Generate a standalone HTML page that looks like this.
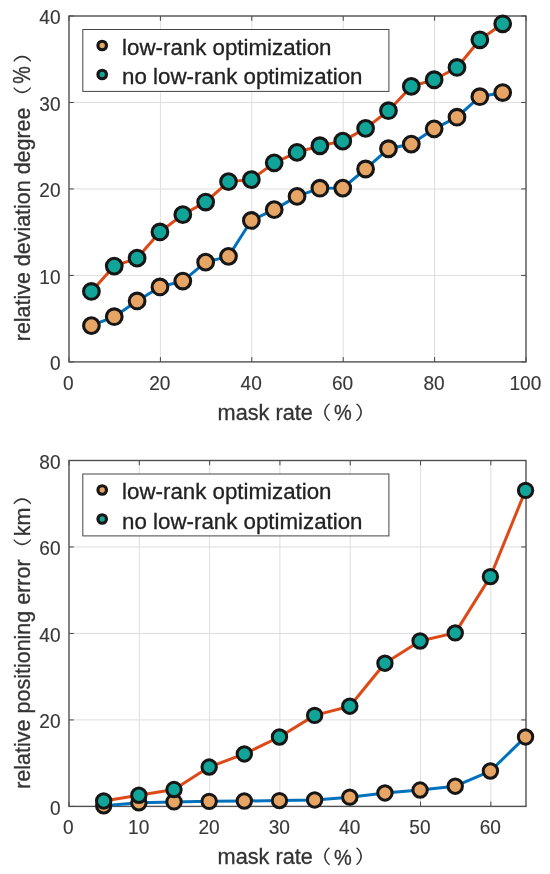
<!DOCTYPE html>
<html lang="en"><head><meta charset="utf-8"><title>Low-rank optimization comparison</title>
<style>html,body{margin:0;padding:0;background:#fff}svg{display:block}text{font-family:"Liberation Sans", "Noto Sans CJK SC", sans-serif;fill:#333;stroke:#333;stroke-width:0.3px}.tk{font-size:20px;stroke-width:0.15px;fill:#383838;stroke:#383838}.lb{font-size:21.7px}.lg{font-size:22.3px;fill:#222;stroke:#222}.pr{font-size:21.5px;stroke:none;font-weight:350}</style></head><body>
<svg width="550" height="874" viewBox="0 0 550 874">
<rect width="550" height="874" fill="#fff"/>
<line x1="160.40" y1="16.00" x2="160.40" y2="361.90" stroke="#dedede" stroke-width="1"/>
<line x1="251.80" y1="16.00" x2="251.80" y2="361.90" stroke="#dedede" stroke-width="1"/>
<line x1="343.20" y1="16.00" x2="343.20" y2="361.90" stroke="#dedede" stroke-width="1"/>
<line x1="434.60" y1="16.00" x2="434.60" y2="361.90" stroke="#dedede" stroke-width="1"/>
<line x1="69.00" y1="275.42" x2="526.00" y2="275.42" stroke="#dedede" stroke-width="1"/>
<line x1="69.00" y1="188.95" x2="526.00" y2="188.95" stroke="#dedede" stroke-width="1"/>
<line x1="69.00" y1="102.47" x2="526.00" y2="102.47" stroke="#dedede" stroke-width="1"/>
<line x1="69.00" y1="361.90" x2="69.00" y2="357.10" stroke="#444" stroke-width="1"/>
<line x1="69.00" y1="16.00" x2="69.00" y2="20.80" stroke="#444" stroke-width="1"/>
<line x1="160.40" y1="361.90" x2="160.40" y2="357.10" stroke="#444" stroke-width="1"/>
<line x1="160.40" y1="16.00" x2="160.40" y2="20.80" stroke="#444" stroke-width="1"/>
<line x1="251.80" y1="361.90" x2="251.80" y2="357.10" stroke="#444" stroke-width="1"/>
<line x1="251.80" y1="16.00" x2="251.80" y2="20.80" stroke="#444" stroke-width="1"/>
<line x1="343.20" y1="361.90" x2="343.20" y2="357.10" stroke="#444" stroke-width="1"/>
<line x1="343.20" y1="16.00" x2="343.20" y2="20.80" stroke="#444" stroke-width="1"/>
<line x1="434.60" y1="361.90" x2="434.60" y2="357.10" stroke="#444" stroke-width="1"/>
<line x1="434.60" y1="16.00" x2="434.60" y2="20.80" stroke="#444" stroke-width="1"/>
<line x1="526.00" y1="361.90" x2="526.00" y2="357.10" stroke="#444" stroke-width="1"/>
<line x1="526.00" y1="16.00" x2="526.00" y2="20.80" stroke="#444" stroke-width="1"/>
<line x1="69.00" y1="361.90" x2="73.80" y2="361.90" stroke="#444" stroke-width="1"/>
<line x1="526.00" y1="361.90" x2="521.20" y2="361.90" stroke="#444" stroke-width="1"/>
<line x1="69.00" y1="275.42" x2="73.80" y2="275.42" stroke="#444" stroke-width="1"/>
<line x1="526.00" y1="275.42" x2="521.20" y2="275.42" stroke="#444" stroke-width="1"/>
<line x1="69.00" y1="188.95" x2="73.80" y2="188.95" stroke="#444" stroke-width="1"/>
<line x1="526.00" y1="188.95" x2="521.20" y2="188.95" stroke="#444" stroke-width="1"/>
<line x1="69.00" y1="102.47" x2="73.80" y2="102.47" stroke="#444" stroke-width="1"/>
<line x1="526.00" y1="102.47" x2="521.20" y2="102.47" stroke="#444" stroke-width="1"/>
<line x1="69.00" y1="16.00" x2="73.80" y2="16.00" stroke="#444" stroke-width="1"/>
<line x1="526.00" y1="16.00" x2="521.20" y2="16.00" stroke="#444" stroke-width="1"/>
<rect x="69.00" y="16.00" width="457.00" height="345.90" fill="none" stroke="#505050" stroke-width="1.4"/>
<text transform="translate(68.40,389.70) scale(0.955,1)" text-anchor="middle" class="tk">0</text>
<text transform="translate(159.80,389.70) scale(0.955,1)" text-anchor="middle" class="tk">20</text>
<text transform="translate(251.20,389.70) scale(0.955,1)" text-anchor="middle" class="tk">40</text>
<text transform="translate(342.60,389.70) scale(0.955,1)" text-anchor="middle" class="tk">60</text>
<text transform="translate(434.00,389.70) scale(0.955,1)" text-anchor="middle" class="tk">80</text>
<text transform="translate(525.40,389.70) scale(0.955,1)" text-anchor="middle" class="tk">100</text>
<text transform="translate(60.60,370.10) scale(0.955,1)" text-anchor="end" class="tk">0</text>
<text transform="translate(60.60,283.62) scale(0.955,1)" text-anchor="end" class="tk">10</text>
<text transform="translate(60.60,197.15) scale(0.955,1)" text-anchor="end" class="tk">20</text>
<text transform="translate(60.60,110.67) scale(0.955,1)" text-anchor="end" class="tk">30</text>
<text transform="translate(60.60,24.20) scale(0.955,1)" text-anchor="end" class="tk">40</text>
<rect x="82.8" y="29.50" width="306.1" height="61.9" fill="#fff" stroke="#444" stroke-width="1"/>
<polyline points="91.40,325.60 114.25,316.69 137.10,300.95 159.95,286.94 182.80,281.06 205.65,262.13 228.50,256.33 251.35,220.44 274.20,209.64 297.05,196.40 319.90,188.19 342.75,188.10 365.60,168.99 388.45,148.76 411.30,144.09 434.15,128.87 457.00,117.19 479.85,96.70 502.70,92.55" fill="none" stroke="#0072BD" stroke-width="3" stroke-linejoin="round"/>
<polyline points="91.40,291.44 114.25,266.10 137.10,258.15 159.95,231.95 182.80,214.65 205.65,202.03 228.50,181.62 251.35,179.63 274.20,162.85 297.05,152.39 319.90,145.73 342.75,141.15 365.60,128.35 388.45,110.71 411.30,86.41 434.15,79.75 457.00,67.47 479.85,39.80 502.70,23.80" fill="none" stroke="#DE4A17" stroke-width="3" stroke-linejoin="round"/>
<circle cx="91.40" cy="325.60" r="7.85" fill="#E6A564" stroke="#161616" stroke-width="3.1"/>
<circle cx="114.25" cy="316.69" r="7.85" fill="#E6A564" stroke="#161616" stroke-width="3.1"/>
<circle cx="137.10" cy="300.95" r="7.85" fill="#E6A564" stroke="#161616" stroke-width="3.1"/>
<circle cx="159.95" cy="286.94" r="7.85" fill="#E6A564" stroke="#161616" stroke-width="3.1"/>
<circle cx="182.80" cy="281.06" r="7.85" fill="#E6A564" stroke="#161616" stroke-width="3.1"/>
<circle cx="205.65" cy="262.13" r="7.85" fill="#E6A564" stroke="#161616" stroke-width="3.1"/>
<circle cx="228.50" cy="256.33" r="7.85" fill="#E6A564" stroke="#161616" stroke-width="3.1"/>
<circle cx="251.35" cy="220.44" r="7.85" fill="#E6A564" stroke="#161616" stroke-width="3.1"/>
<circle cx="274.20" cy="209.64" r="7.85" fill="#E6A564" stroke="#161616" stroke-width="3.1"/>
<circle cx="297.05" cy="196.40" r="7.85" fill="#E6A564" stroke="#161616" stroke-width="3.1"/>
<circle cx="319.90" cy="188.19" r="7.85" fill="#E6A564" stroke="#161616" stroke-width="3.1"/>
<circle cx="342.75" cy="188.10" r="7.85" fill="#E6A564" stroke="#161616" stroke-width="3.1"/>
<circle cx="365.60" cy="168.99" r="7.85" fill="#E6A564" stroke="#161616" stroke-width="3.1"/>
<circle cx="388.45" cy="148.76" r="7.85" fill="#E6A564" stroke="#161616" stroke-width="3.1"/>
<circle cx="411.30" cy="144.09" r="7.85" fill="#E6A564" stroke="#161616" stroke-width="3.1"/>
<circle cx="434.15" cy="128.87" r="7.85" fill="#E6A564" stroke="#161616" stroke-width="3.1"/>
<circle cx="457.00" cy="117.19" r="7.85" fill="#E6A564" stroke="#161616" stroke-width="3.1"/>
<circle cx="479.85" cy="96.70" r="7.85" fill="#E6A564" stroke="#161616" stroke-width="3.1"/>
<circle cx="502.70" cy="92.55" r="7.85" fill="#E6A564" stroke="#161616" stroke-width="3.1"/>
<circle cx="91.40" cy="291.44" r="7.85" fill="#10A598" stroke="#161616" stroke-width="3.1"/>
<circle cx="114.25" cy="266.10" r="7.85" fill="#10A598" stroke="#161616" stroke-width="3.1"/>
<circle cx="137.10" cy="258.15" r="7.85" fill="#10A598" stroke="#161616" stroke-width="3.1"/>
<circle cx="159.95" cy="231.95" r="7.85" fill="#10A598" stroke="#161616" stroke-width="3.1"/>
<circle cx="182.80" cy="214.65" r="7.85" fill="#10A598" stroke="#161616" stroke-width="3.1"/>
<circle cx="205.65" cy="202.03" r="7.85" fill="#10A598" stroke="#161616" stroke-width="3.1"/>
<circle cx="228.50" cy="181.62" r="7.85" fill="#10A598" stroke="#161616" stroke-width="3.1"/>
<circle cx="251.35" cy="179.63" r="7.85" fill="#10A598" stroke="#161616" stroke-width="3.1"/>
<circle cx="274.20" cy="162.85" r="7.85" fill="#10A598" stroke="#161616" stroke-width="3.1"/>
<circle cx="297.05" cy="152.39" r="7.85" fill="#10A598" stroke="#161616" stroke-width="3.1"/>
<circle cx="319.90" cy="145.73" r="7.85" fill="#10A598" stroke="#161616" stroke-width="3.1"/>
<circle cx="342.75" cy="141.15" r="7.85" fill="#10A598" stroke="#161616" stroke-width="3.1"/>
<circle cx="365.60" cy="128.35" r="7.85" fill="#10A598" stroke="#161616" stroke-width="3.1"/>
<circle cx="388.45" cy="110.71" r="7.85" fill="#10A598" stroke="#161616" stroke-width="3.1"/>
<circle cx="411.30" cy="86.41" r="7.85" fill="#10A598" stroke="#161616" stroke-width="3.1"/>
<circle cx="434.15" cy="79.75" r="7.85" fill="#10A598" stroke="#161616" stroke-width="3.1"/>
<circle cx="457.00" cy="67.47" r="7.85" fill="#10A598" stroke="#161616" stroke-width="3.1"/>
<circle cx="479.85" cy="39.80" r="7.85" fill="#10A598" stroke="#161616" stroke-width="3.1"/>
<circle cx="502.70" cy="23.80" r="7.85" fill="#10A598" stroke="#161616" stroke-width="3.1"/>
<circle cx="102.2" cy="45.50" r="4.25" fill="#E6A564" stroke="#161616" stroke-width="3.2"/>
<circle cx="102.2" cy="74.50" r="4.25" fill="#10A598" stroke="#161616" stroke-width="3.2"/>
<text x="122.1" y="54.70" class="lg">low-rank optimization</text>
<text x="122.1" y="84.20" class="lg">no low-rank optimization</text>
<g transform="translate(217.6,419.80)"><text x="0" y="0" font-size="21.7">mask rate</text><text transform="translate(89.54,-1.3) scale(1.12,0.86)" class="pr">（</text><text transform="translate(116.40,0.3) scale(0.92,1.045)" font-size="21.7">%</text><text transform="translate(137.10,-1.3) scale(1.12,0.86)" class="pr">）</text></g>
<g transform="translate(29.8,341.20) rotate(-90)"><text x="0" y="0" font-size="21.45">relative deviation degree</text><text transform="translate(231.24,-1.3) scale(1.12,0.86)" class="pr">（</text><text transform="translate(257.41,0.3) scale(0.92,1.1)" font-size="21.45">%</text><text transform="translate(278.20,-1.3) scale(1.12,0.86)" class="pr">）</text></g>
<line x1="139.31" y1="460.50" x2="139.31" y2="806.40" stroke="#dedede" stroke-width="1"/>
<line x1="209.62" y1="460.50" x2="209.62" y2="806.40" stroke="#dedede" stroke-width="1"/>
<line x1="279.92" y1="460.50" x2="279.92" y2="806.40" stroke="#dedede" stroke-width="1"/>
<line x1="350.23" y1="460.50" x2="350.23" y2="806.40" stroke="#dedede" stroke-width="1"/>
<line x1="420.54" y1="460.50" x2="420.54" y2="806.40" stroke="#dedede" stroke-width="1"/>
<line x1="490.85" y1="460.50" x2="490.85" y2="806.40" stroke="#dedede" stroke-width="1"/>
<line x1="69.00" y1="719.92" x2="526.00" y2="719.92" stroke="#dedede" stroke-width="1"/>
<line x1="69.00" y1="633.45" x2="526.00" y2="633.45" stroke="#dedede" stroke-width="1"/>
<line x1="69.00" y1="546.97" x2="526.00" y2="546.97" stroke="#dedede" stroke-width="1"/>
<line x1="69.00" y1="806.40" x2="69.00" y2="801.60" stroke="#444" stroke-width="1"/>
<line x1="69.00" y1="460.50" x2="69.00" y2="465.30" stroke="#444" stroke-width="1"/>
<line x1="139.31" y1="806.40" x2="139.31" y2="801.60" stroke="#444" stroke-width="1"/>
<line x1="139.31" y1="460.50" x2="139.31" y2="465.30" stroke="#444" stroke-width="1"/>
<line x1="209.62" y1="806.40" x2="209.62" y2="801.60" stroke="#444" stroke-width="1"/>
<line x1="209.62" y1="460.50" x2="209.62" y2="465.30" stroke="#444" stroke-width="1"/>
<line x1="279.92" y1="806.40" x2="279.92" y2="801.60" stroke="#444" stroke-width="1"/>
<line x1="279.92" y1="460.50" x2="279.92" y2="465.30" stroke="#444" stroke-width="1"/>
<line x1="350.23" y1="806.40" x2="350.23" y2="801.60" stroke="#444" stroke-width="1"/>
<line x1="350.23" y1="460.50" x2="350.23" y2="465.30" stroke="#444" stroke-width="1"/>
<line x1="420.54" y1="806.40" x2="420.54" y2="801.60" stroke="#444" stroke-width="1"/>
<line x1="420.54" y1="460.50" x2="420.54" y2="465.30" stroke="#444" stroke-width="1"/>
<line x1="490.85" y1="806.40" x2="490.85" y2="801.60" stroke="#444" stroke-width="1"/>
<line x1="490.85" y1="460.50" x2="490.85" y2="465.30" stroke="#444" stroke-width="1"/>
<line x1="69.00" y1="806.40" x2="73.80" y2="806.40" stroke="#444" stroke-width="1"/>
<line x1="526.00" y1="806.40" x2="521.20" y2="806.40" stroke="#444" stroke-width="1"/>
<line x1="69.00" y1="719.92" x2="73.80" y2="719.92" stroke="#444" stroke-width="1"/>
<line x1="526.00" y1="719.92" x2="521.20" y2="719.92" stroke="#444" stroke-width="1"/>
<line x1="69.00" y1="633.45" x2="73.80" y2="633.45" stroke="#444" stroke-width="1"/>
<line x1="526.00" y1="633.45" x2="521.20" y2="633.45" stroke="#444" stroke-width="1"/>
<line x1="69.00" y1="546.97" x2="73.80" y2="546.97" stroke="#444" stroke-width="1"/>
<line x1="526.00" y1="546.97" x2="521.20" y2="546.97" stroke="#444" stroke-width="1"/>
<line x1="69.00" y1="460.50" x2="73.80" y2="460.50" stroke="#444" stroke-width="1"/>
<line x1="526.00" y1="460.50" x2="521.20" y2="460.50" stroke="#444" stroke-width="1"/>
<rect x="69.00" y="460.50" width="457.00" height="345.90" fill="none" stroke="#505050" stroke-width="1.4"/>
<text transform="translate(68.40,834.20) scale(0.955,1)" text-anchor="middle" class="tk">0</text>
<text transform="translate(138.71,834.20) scale(0.955,1)" text-anchor="middle" class="tk">10</text>
<text transform="translate(209.02,834.20) scale(0.955,1)" text-anchor="middle" class="tk">20</text>
<text transform="translate(279.32,834.20) scale(0.955,1)" text-anchor="middle" class="tk">30</text>
<text transform="translate(349.63,834.20) scale(0.955,1)" text-anchor="middle" class="tk">40</text>
<text transform="translate(419.94,834.20) scale(0.955,1)" text-anchor="middle" class="tk">50</text>
<text transform="translate(490.25,834.20) scale(0.955,1)" text-anchor="middle" class="tk">60</text>
<text transform="translate(60.60,814.60) scale(0.955,1)" text-anchor="end" class="tk">0</text>
<text transform="translate(60.60,728.12) scale(0.955,1)" text-anchor="end" class="tk">20</text>
<text transform="translate(60.60,641.65) scale(0.955,1)" text-anchor="end" class="tk">40</text>
<text transform="translate(60.60,555.17) scale(0.955,1)" text-anchor="end" class="tk">60</text>
<text transform="translate(60.60,468.70) scale(0.955,1)" text-anchor="end" class="tk">80</text>
<rect x="82.8" y="474.00" width="306.1" height="61.9" fill="#fff" stroke="#444" stroke-width="1"/>
<polyline points="103.70,805.77 138.86,802.74 174.01,801.88 209.17,801.36 244.32,801.01 279.47,800.58 314.63,799.93 349.78,797.16 384.93,792.93 420.09,790.07 455.24,786.18 490.40,771.01 525.55,736.93" fill="none" stroke="#0072BD" stroke-width="3" stroke-linejoin="round"/>
<polyline points="103.70,800.93 138.86,795.26 174.01,789.56 209.17,767.07 244.32,753.93 279.47,737.02 314.63,715.40 349.78,706.19 384.93,663.22 420.09,640.99 455.24,632.91 490.40,576.61 525.55,490.35" fill="none" stroke="#DE4A17" stroke-width="3" stroke-linejoin="round"/>
<circle cx="103.70" cy="805.77" r="7.2" fill="#E6A564" stroke="#161616" stroke-width="3.0"/>
<circle cx="138.86" cy="802.74" r="7.2" fill="#E6A564" stroke="#161616" stroke-width="3.0"/>
<circle cx="174.01" cy="801.88" r="7.2" fill="#E6A564" stroke="#161616" stroke-width="3.0"/>
<circle cx="209.17" cy="801.36" r="7.2" fill="#E6A564" stroke="#161616" stroke-width="3.0"/>
<circle cx="244.32" cy="801.01" r="7.2" fill="#E6A564" stroke="#161616" stroke-width="3.0"/>
<circle cx="279.47" cy="800.58" r="7.2" fill="#E6A564" stroke="#161616" stroke-width="3.0"/>
<circle cx="314.63" cy="799.93" r="7.2" fill="#E6A564" stroke="#161616" stroke-width="3.0"/>
<circle cx="349.78" cy="797.16" r="7.2" fill="#E6A564" stroke="#161616" stroke-width="3.0"/>
<circle cx="384.93" cy="792.93" r="7.2" fill="#E6A564" stroke="#161616" stroke-width="3.0"/>
<circle cx="420.09" cy="790.07" r="7.2" fill="#E6A564" stroke="#161616" stroke-width="3.0"/>
<circle cx="455.24" cy="786.18" r="7.2" fill="#E6A564" stroke="#161616" stroke-width="3.0"/>
<circle cx="490.40" cy="771.01" r="7.2" fill="#E6A564" stroke="#161616" stroke-width="3.0"/>
<circle cx="525.55" cy="736.93" r="7.2" fill="#E6A564" stroke="#161616" stroke-width="3.0"/>
<circle cx="103.70" cy="800.93" r="7.2" fill="#10A598" stroke="#161616" stroke-width="3.0"/>
<circle cx="138.86" cy="795.26" r="7.2" fill="#10A598" stroke="#161616" stroke-width="3.0"/>
<circle cx="174.01" cy="789.56" r="7.2" fill="#10A598" stroke="#161616" stroke-width="3.0"/>
<circle cx="209.17" cy="767.07" r="7.2" fill="#10A598" stroke="#161616" stroke-width="3.0"/>
<circle cx="244.32" cy="753.93" r="7.2" fill="#10A598" stroke="#161616" stroke-width="3.0"/>
<circle cx="279.47" cy="737.02" r="7.2" fill="#10A598" stroke="#161616" stroke-width="3.0"/>
<circle cx="314.63" cy="715.40" r="7.2" fill="#10A598" stroke="#161616" stroke-width="3.0"/>
<circle cx="349.78" cy="706.19" r="7.2" fill="#10A598" stroke="#161616" stroke-width="3.0"/>
<circle cx="384.93" cy="663.22" r="7.2" fill="#10A598" stroke="#161616" stroke-width="3.0"/>
<circle cx="420.09" cy="640.99" r="7.2" fill="#10A598" stroke="#161616" stroke-width="3.0"/>
<circle cx="455.24" cy="632.91" r="7.2" fill="#10A598" stroke="#161616" stroke-width="3.0"/>
<circle cx="490.40" cy="576.61" r="7.2" fill="#10A598" stroke="#161616" stroke-width="3.0"/>
<circle cx="525.55" cy="490.35" r="7.2" fill="#10A598" stroke="#161616" stroke-width="3.0"/>
<circle cx="102.2" cy="490.00" r="4.25" fill="#E6A564" stroke="#161616" stroke-width="3.2"/>
<circle cx="102.2" cy="519.00" r="4.25" fill="#10A598" stroke="#161616" stroke-width="3.2"/>
<text x="122.1" y="499.20" class="lg">low-rank optimization</text>
<text x="122.1" y="528.70" class="lg">no low-rank optimization</text>
<g transform="translate(217.6,864.30)"><text x="0" y="0" font-size="21.7">mask rate</text><text transform="translate(89.54,-1.3) scale(1.12,0.86)" class="pr">（</text><text transform="translate(116.40,0.3) scale(0.92,1.045)" font-size="21.7">%</text><text transform="translate(137.10,-1.3) scale(1.12,0.86)" class="pr">）</text></g>
<g transform="translate(29.8,788.80) rotate(-90)"><text x="0" y="0" font-size="21.5">relative positioning error</text><text transform="translate(226.84,-1.3) scale(1.12,0.86)" class="pr">（</text><text transform="translate(252.50,0) scale(1.0,1.0)" font-size="21.5">km</text><text transform="translate(283.20,-1.3) scale(1.12,0.86)" class="pr">）</text></g>
</svg></body></html>
